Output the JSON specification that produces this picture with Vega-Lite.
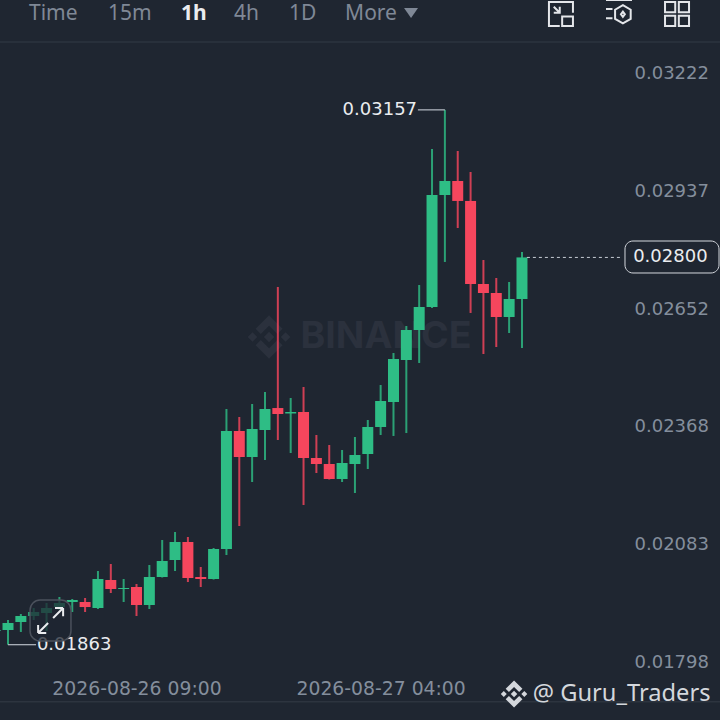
{"$schema":"https://vega.github.io/schema/vega-lite/v6.json","width":720,"height":720,"padding":0,"autosize":{"type":"none"},"background":"#1f2631","config":{"view":{"stroke":null},"font":"DejaVu Sans"},
"resolve":{"axis":{"x":"independent","y":"independent"}},
"datasets":{"candles":[
{"t":"2026-08-25T22:00:00Z","open":0.018961,"high":0.019004,"low":0.018925,"close":0.018985},
{"t":"2026-08-25T23:00:00Z","open":0.018985,"high":0.019228,"low":0.01863,"close":0.019155},
{"t":"2026-08-26T00:00:00Z","open":0.019179,"high":0.019373,"low":0.018938,"close":0.019324},
{"t":"2026-08-26T01:00:00Z","open":0.019324,"high":0.019518,"low":0.019228,"close":0.019421},
{"t":"2026-08-26T02:00:00Z","open":0.019397,"high":0.019639,"low":0.018961,"close":0.019518},
{"t":"2026-08-26T03:00:00Z","open":0.019541,"high":0.019784,"low":0.01947,"close":0.019639},
{"t":"2026-08-26T04:00:00Z","open":0.019663,"high":0.019736,"low":0.019421,"close":0.019711},
{"t":"2026-08-26T05:00:00Z","open":0.019663,"high":0.01976,"low":0.019421,"close":0.019541},
{"t":"2026-08-26T06:00:00Z","open":0.019518,"high":0.020413,"low":0.019494,"close":0.020219},
{"t":"2026-08-26T07:00:00Z","open":0.020195,"high":0.020582,"low":0.01988,"close":0.019977},
{"t":"2026-08-26T08:00:00Z","open":0.019977,"high":0.020219,"low":0.019663,"close":0.020002},
{"t":"2026-08-26T09:00:00Z","open":0.020026,"high":0.020099,"low":0.019324,"close":0.01959},
{"t":"2026-08-26T10:00:00Z","open":0.01959,"high":0.020558,"low":0.019494,"close":0.020268},
{"t":"2026-08-26T11:00:00Z","open":0.020268,"high":0.021163,"low":0.020256,"close":0.020655},
{"t":"2026-08-26T12:00:00Z","open":0.020679,"high":0.021356,"low":0.020413,"close":0.021114},
{"t":"2026-08-26T13:00:00Z","open":0.021114,"high":0.021236,"low":0.020146,"close":0.020243},
{"t":"2026-08-26T14:00:00Z","open":0.020268,"high":0.02051,"low":0.020026,"close":0.020219},
{"t":"2026-08-26T15:00:00Z","open":0.020219,"high":0.02097,"low":0.020207,"close":0.020945},
{"t":"2026-08-26T16:00:00Z","open":0.020945,"high":0.024332,"low":0.0208,"close":0.0238},
{"t":"2026-08-26T17:00:00Z","open":0.0238,"high":0.024139,"low":0.021502,"close":0.023171},
{"t":"2026-08-26T18:00:00Z","open":0.023171,"high":0.024453,"low":0.022566,"close":0.023849},
{"t":"2026-08-26T19:00:00Z","open":0.023824,"high":0.024744,"low":0.023099,"close":0.024332},
{"t":"2026-08-26T20:00:00Z","open":0.024356,"high":0.027285,"low":0.023583,"close":0.024212},
{"t":"2026-08-26T21:00:00Z","open":0.024224,"high":0.024599,"low":0.023268,"close":0.02426},
{"t":"2026-08-26T22:00:00Z","open":0.02426,"high":0.024865,"low":0.02201,"close":0.023147},
{"t":"2026-08-26T23:00:00Z","open":0.023147,"high":0.023704,"low":0.022784,"close":0.023002},
{"t":"2026-08-27T00:00:00Z","open":0.023002,"high":0.023461,"low":0.022627,"close":0.022639},
{"t":"2026-08-27T01:00:00Z","open":0.022639,"high":0.023341,"low":0.022566,"close":0.023026},
{"t":"2026-08-27T02:00:00Z","open":0.023002,"high":0.023655,"low":0.0223,"close":0.023219},
{"t":"2026-08-27T03:00:00Z","open":0.023244,"high":0.024066,"low":0.022881,"close":0.023897},
{"t":"2026-08-27T04:00:00Z","open":0.023897,"high":0.024913,"low":0.023704,"close":0.024526},
{"t":"2026-08-27T05:00:00Z","open":0.024502,"high":0.025688,"low":0.02368,"close":0.025542},
{"t":"2026-08-27T06:00:00Z","open":0.025518,"high":0.026341,"low":0.023751,"close":0.026244},
{"t":"2026-08-27T07:00:00Z","open":0.026244,"high":0.027332,"low":0.025446,"close":0.0268},
{"t":"2026-08-27T08:00:00Z","open":0.0268,"high":0.030623,"low":0.026776,"close":0.02951},
{"t":"2026-08-27T09:00:00Z","open":0.02951,"high":0.03157,"low":0.02789,"close":0.029849},
{"t":"2026-08-27T10:00:00Z","open":0.029849,"high":0.030575,"low":0.028712,"close":0.029366},
{"t":"2026-08-27T11:00:00Z","open":0.029366,"high":0.030067,"low":0.026656,"close":0.027357},
{"t":"2026-08-27T12:00:00Z","open":0.027357,"high":0.027937,"low":0.025663,"close":0.027139},
{"t":"2026-08-27T13:00:00Z","open":0.027139,"high":0.027502,"low":0.025832,"close":0.026559},
{"t":"2026-08-27T14:00:00Z","open":0.026559,"high":0.027405,"low":0.026171,"close":0.026994},
{"t":"2026-08-27T15:00:00Z","open":0.026994,"high":0.028131,"low":0.025808,"close":0.028}
]},
"layer":[
{"data":{"values":[{"p":0.033212},{"p":0.01725}]},"mark":{"type":"rule","color":"#2d343f","strokeWidth":1.5},"encoding":{"y":{"field":"p","type":"quantitative","scale":{"domain":[0.016808,0.034228],"zero":false,"nice":false},"axis":null}}},
{"data":{"values":[{"t":"2026-08-27T04:25:00Z","p":0.026074,"label":"BINANCE"}]},"mark":{"type":"text","align":"center","baseline":"middle","font":"Inter","fontWeight":"bold","fontSize":37.5,"color":"#2b313d"},"encoding":{"x":{"field":"t","type":"temporal","axis":null},"y":{"field":"p","type":"quantitative","axis":null},"text":{"field":"label"}}},
{"data":{"values":[{"t":"2026-08-26T19:19:00Z","p":0.026074}]},"mark":{"type":"point","filled":true,"opacity":1,"color":"#2b313d","size":1900,"shape":"M0,-0.24 L0.24,0 L0,0.24 L-0.24,0 Z M-0.98,0 L-0.76,-0.22 L-0.54,0 L-0.76,0.22 Z M0.98,0 L0.76,-0.22 L0.54,0 L0.76,0.22 Z M0,-1 L0.62,-0.38 L0.38,-0.14 L0,-0.52 L-0.38,-0.14 L-0.62,-0.38 Z M0,1 L0.62,0.38 L0.38,0.14 L0,0.52 L-0.38,0.14 L-0.62,0.38 Z"},"encoding":{"x":{"field":"t","type":"temporal","axis":null},"y":{"field":"p","type":"quantitative","axis":null}}},
{"data":{"name":"candles"},"mark":{"type":"rule","strokeWidth":2,"opacity":0.82},"encoding":{
"x":{"field":"t","type":"temporal","title":null,"scale":{"type":"utc","nice":false,"padding":0,"domain":[{"utc":true,"year":2026,"month":8,"date":25,"hours":22,"minutes":22,"seconds":38},{"utc":true,"year":2026,"month":8,"date":28,"hours":6,"minutes":24,"seconds":40}]},"axis":{"orient":"bottom","offset":-41,"labelPadding":0,"ticks":false,"domain":false,"grid":false,"labelExpr":"utcFormat(datum.value, '%Y-%m-%d %H:%M')","values":[{"utc":true,"year":2026,"month":8,"date":26,"hours":9},{"utc":true,"year":2026,"month":8,"date":27,"hours":4}],"labelColor":"#848e9c","labelFontSize":18.8,"labelFont":"DejaVu Sans","labelOverlap":false,"labelBound":false,"labelFlush":false}},
"y":{"field":"low","type":"quantitative","title":null,"axis":{"orient":"right","offset":-86,"labelPadding":0,"ticks":false,"domain":false,"grid":false,"format":".5f","values":[0.03222,0.02937,0.02652,0.02368,0.02083,0.01798],"labelColor":"#848e9c","labelFontSize":18,"labelFont":"DejaVu Sans","labelOffset":-9,"labelAlign":"left","labelOverlap":false,"labelBound":false}},
"y2":{"field":"high"},
"color":{"condition":{"test":"datum.close >= datum.open","value":"#2ebd85"},"value":"#f6465d"}}},
{"data":{"name":"candles"},"mark":{"type":"bar","size":11},"encoding":{"x":{"field":"t","type":"temporal","axis":null},"y":{"field":"open","type":"quantitative","axis":null},"y2":{"field":"close"},"color":{"condition":{"test":"datum.close >= datum.open","value":"#2ebd85"},"value":"#f6465d"}}},
{"data":{"values":[{"t":"2026-08-27T15:23:00Z","t2":"2026-08-27T22:47:00Z","p":0.028}]},"mark":{"type":"rule","color":"#c9ced6","strokeWidth":1,"strokeDash":[3,3]},"encoding":{"x":{"field":"t","type":"temporal","axis":null},"x2":{"field":"t2"},"y":{"field":"p","type":"quantitative","axis":null}}},
{"data":{"values":[{"t":"2026-08-27T23:01:00Z","t2":"2026-08-28T06:20:00Z","p":0.028397,"p2":0.027623}]},"mark":{"type":"rect","fill":"#1f2631","stroke":"#d5d9df","strokeWidth":1,"cornerRadius":8},"encoding":{"x":{"field":"t","type":"temporal","axis":null},"x2":{"field":"t2"},"y":{"field":"p","type":"quantitative","axis":null},"y2":{"field":"p2"}}},
{"data":{"values":[{"t":"2026-08-28T02:33:00Z","p":0.028,"label":"0.02800"}]},"mark":{"type":"text","align":"center","baseline":"middle","font":"DejaVu Sans","fontSize":18,"color":"#eaecef"},"encoding":{"x":{"field":"t","type":"temporal","axis":null},"y":{"field":"p","type":"quantitative","axis":null},"text":{"field":"label"}}},
{"data":{"values":[{"t":"2026-08-27T06:54:00Z","t2":"2026-08-27T09:00:00Z","p":0.03157},{"t":"2026-08-25T23:00:00Z","t2":"2026-08-26T01:11:00Z","p":0.01863}]},"mark":{"type":"rule","color":"#b7bdc6","strokeWidth":1.2},"encoding":{"x":{"field":"t","type":"temporal","axis":null},"x2":{"field":"t2"},"y":{"field":"p","type":"quantitative","axis":null}}},
{"data":{"values":[{"t":"2026-08-27T06:50:00Z","p":0.03157,"label":"0.03157"}]},"mark":{"type":"text","align":"right","baseline":"middle","font":"DejaVu Sans","fontSize":18,"color":"#eaecef"},"encoding":{"x":{"field":"t","type":"temporal","axis":null},"y":{"field":"p","type":"quantitative","axis":null},"text":{"field":"label"}}},
{"data":{"values":[{"t":"2026-08-26T01:15:00Z","p":0.01863,"label":"0.01863"}]},"mark":{"type":"text","align":"left","baseline":"middle","font":"DejaVu Sans","fontSize":18,"color":"#eaecef"},"encoding":{"x":{"field":"t","type":"temporal","axis":null},"y":{"field":"p","type":"quantitative","axis":null},"text":{"field":"label"}}},
{"data":{"values":[{"t":"2026-08-26T00:43:00Z","t2":"2026-08-26T03:54:00Z","p":0.019711,"p2":0.018719}]},"mark":{"type":"rect","fill":"#1f2631","fillOpacity":0.75,"stroke":"#4b515c","strokeWidth":1.5,"cornerRadius":10},"encoding":{"x":{"field":"t","type":"temporal","axis":null},"x2":{"field":"t2"},"y":{"field":"p","type":"quantitative","axis":null},"y2":{"field":"p2"}}},
{"data":{"values":[{"t":"2026-08-26T02:19:00Z","p":0.019215}]},"mark":{"type":"point","filled":false,"opacity":1,"color":"#eaecef","strokeWidth":2,"size":625,"shape":"M-1,1 L-0.2,0.2 M-1,1 V0.35 M-1,1 H-0.35 M1,-1 L0.2,-0.2 M1,-1 V-0.35 M1,-1 H0.35"},"encoding":{"x":{"field":"t","type":"temporal","axis":null},"y":{"field":"p","type":"quantitative","axis":null}}},
{"data":{"values":[{"t":"2026-08-26T00:38:00Z","p":0.033889,"label":"Time"},{"t":"2026-08-26T06:47:00Z","p":0.033889,"label":"15m"},{"t":"2026-08-26T16:35:00Z","p":0.033889,"label":"4h"},{"t":"2026-08-26T20:52:00Z","p":0.033889,"label":"1D"},{"t":"2026-08-27T01:14:00Z","p":0.033889,"label":"More"}]},"mark":{"type":"text","align":"left","baseline":"middle","font":"Noto Sans","fontSize":21,"color":"#7f8896"},"encoding":{"x":{"field":"t","type":"temporal","axis":null},"y":{"field":"p","type":"quantitative","axis":null},"text":{"field":"label"}}},
{"data":{"values":[{"t":"2026-08-26T12:28:00Z","p":0.033889,"label":"1h"}]},"mark":{"type":"text","align":"left","baseline":"middle","font":"Noto Sans","fontWeight":"bold","fontSize":21,"color":"#eaecef"},"encoding":{"x":{"field":"t","type":"temporal","axis":null},"y":{"field":"p","type":"quantitative","axis":null},"text":{"field":"label"}}},
{"data":{"values":[{"t":"2026-08-27T06:22:00Z","p":0.033914}]},"mark":{"type":"point","filled":true,"opacity":1,"color":"#7f8896","size":196,"shape":"M-1,-0.7 H1 L0,0.7 Z"},"encoding":{"x":{"field":"t","type":"temporal","axis":null},"y":{"field":"p","type":"quantitative","axis":null}}},
{"data":{"values":[{"t":"2026-08-27T18:02:00Z","p":0.033889}]},"mark":{"type":"point","filled":false,"opacity":1,"color":"#e4e6ea","strokeWidth":2,"size":576,"shape":"M-0.1,1 H-1 V-1 H1 V-0.1 M0.1,0.2 H1 V1 H0.1 Z M-0.6,-0.6 L-0.1,-0.1 M-0.6,-0.1 H-0.1 V-0.6"},"encoding":{"x":{"field":"t","type":"temporal","axis":null},"y":{"field":"p","type":"quantitative","axis":null}}},
{"data":{"values":[{"t":"2026-08-27T22:33:00Z","p":0.033914}]},"mark":{"type":"point","filled":false,"opacity":1,"color":"#e4e6ea","strokeWidth":2,"size":676,"shape":"M-1,-1 H1 M-1,-0.3 H-0.5 M-1,0.4 H-0.5 M0.3,-0.6 L0.9,-0.25 V0.45 L0.3,0.8 L-0.3,0.45 V-0.25 Z M0.3,-0.1 L0.45,0.1 L0.3,0.3 L0.15,0.1 Z"},"encoding":{"x":{"field":"t","type":"temporal","axis":null},"y":{"field":"p","type":"quantitative","axis":null}}},
{"data":{"values":[{"t":"2026-08-28T03:04:00Z","p":0.033889}]},"mark":{"type":"point","filled":false,"opacity":1,"color":"#e4e6ea","strokeWidth":2,"size":576,"shape":"M-1,-1 H-0.15 V-0.15 H-1 Z M0.15,-1 H1 V-0.15 H0.15 Z M-1,0.15 H-0.15 V1 H-1 Z M0.15,0.15 H1 V1 H0.15 Z"},"encoding":{"x":{"field":"t","type":"temporal","axis":null},"y":{"field":"p","type":"quantitative","axis":null}}},
{"data":{"values":[{"t":"2026-08-27T14:23:00Z","p":0.017437}]},"mark":{"type":"point","filled":true,"opacity":1,"color":"#d4d7dc","size":729,"shape":"M0,-0.24 L0.24,0 L0,0.24 L-0.24,0 Z M-0.98,0 L-0.76,-0.22 L-0.54,0 L-0.76,0.22 Z M0.98,0 L0.76,-0.22 L0.54,0 L0.76,0.22 Z M0,-1 L0.62,-0.38 L0.38,-0.14 L0,-0.52 L-0.38,-0.14 L-0.62,-0.38 Z M0,1 L0.62,0.38 L0.38,0.14 L0,0.52 L-0.38,0.14 L-0.62,0.38 Z"},"encoding":{"x":{"field":"t","type":"temporal","axis":null},"y":{"field":"p","type":"quantitative","axis":null}}},
{"data":{"values":[{"t":"2026-08-27T15:50:00Z","p":0.017437,"label":"@ Guru_Traders"}]},"mark":{"type":"text","align":"left","baseline":"middle","font":"Noto Sans","fontSize":23.7,"color":"#d4d7dc"},"encoding":{"x":{"field":"t","type":"temporal","axis":null},"y":{"field":"p","type":"quantitative","axis":null},"text":{"field":"label"}}}
]}
